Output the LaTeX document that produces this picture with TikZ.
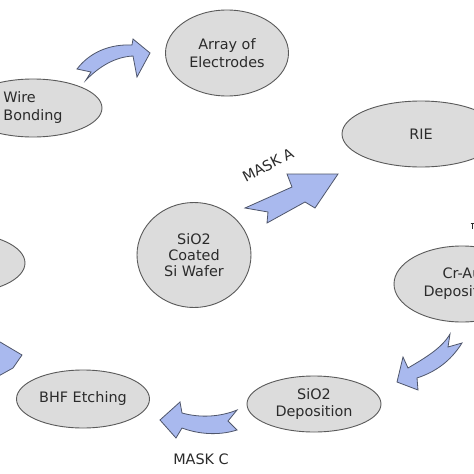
\documentclass[tikz,border=0pt]{standalone}
\usepackage{fontspec}
\setmainfont{DejaVu Sans}
\usetikzlibrary{shapes.geometric}
\definecolor{ellfill}{HTML}{DCDCDC}
\definecolor{elldraw}{HTML}{5A5A5A}
\definecolor{arrfill}{HTML}{A9B9EE}
\definecolor{arrdraw}{HTML}{4F566B}
\definecolor{txt}{HTML}{2B2B2B}
\begin{document}
\begin{tikzpicture}[x=1pt,y=-1pt,
  stage/.style={ellipse, draw=elldraw, fill=ellfill, line width=0.9pt, inner sep=0pt,
    text=txt, align=center, font=\fontsize{14.4}{18}\selectfont},
  blockarrow/.style={draw=arrdraw, fill=arrfill, line width=0.8pt, line join=miter},
  masklabel/.style={text=txt, font=\fontsize{14.4}{18}\selectfont, inner sep=0pt}]
\useasboundingbox (0,0) rectangle (474,474);
\clip (0,0) rectangle (474,474);
\fill[white] (0,0) rectangle (474,474);

% stages
\node[stage, minimum width=123pt, minimum height=86pt] (array) at (227,53) {Array of\\Electrodes};
\node[stage, minimum width=138pt, minimum height=58pt, align=left] (wire) at (33,108) {Wire\\Bonding};
\node[stage, minimum width=158pt, minimum height=66pt] (rie) at (421,134) {RIE};
\node[stage, minimum width=114pt, minimum height=105pt, font=\fontsize{14.4}{16}\selectfont] (wafer) at (194,255) {SiO2\\Coated\\Si Wafer};
\node[stage, minimum width=136pt, minimum height=76pt] (crau) at (462,284) {Cr-Au\\Deposition};
\node[stage, minimum width=134pt, minimum height=56pt, font=\fontsize{14.4}{17}\selectfont] (sio2dep) at (314,404) {SiO2\\Deposition};
\node[stage, minimum width=133pt, minimum height=58pt] (bhf) at (83,399) {BHF Etching};
\node[stage, minimum width=130pt, minimum height=60pt] (leftst) at (-40,263) {};

% block arrows
% wire bonding -> array of electrodes
\draw[blockarrow] (77,69) -- (91,72) -- (86,80)
  .. controls (100,66) and (115,57) .. (133,56)
  -- (137,77) -- (150,53) -- (133,39) -- (132,45)
  .. controls (110,44) and (90,52) .. cycle;
% wafer -> RIE (mask A)
\draw[blockarrow] (245,208) -- (268,212) -- (267,223) -- (305,202) -- (315,208)
  -- (338,174) -- (287,174) -- (292,187) -- cycle;
% Cr-Au -> SiO2 deposition
\draw[blockarrow] (450,334) -- (448,347) -- (462,343)
  .. controls (450,362) and (435,372) .. (417,378)
  -- (418,390) -- (397,382) -- (403,357) -- (408,368)
  .. controls (425,358) and (442,348) .. cycle;
% SiO2 deposition -> BHF etching (mask C)
\draw[blockarrow] (160,420) -- (180,402) -- (182,413)
  .. controls (200,418) and (220,417) .. (237,410)
  -- (228,421) -- (237,430)
  .. controls (218,436) and (198,434) .. (182,428)
  -- (176,438) -- cycle;
% fragment at left edge
\draw[blockarrow] (-5,339) -- (22,355) -- (13,368) -- (-5,378);

% labels
\node[masklabel, rotate=27] (maska) at (268,165) {MASK A};
\node[masklabel] (maskc) at (201,459) {MASK C};
\draw[txt, line width=0.9pt] (470.5,223.5) -- (474,223.5) (472.5,223.5) -- (472.5,228.5);
\end{tikzpicture}
\end{document}
